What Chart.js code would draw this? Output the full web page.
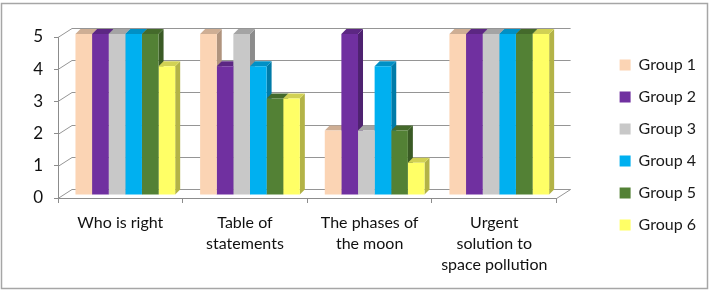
<!DOCTYPE html>
<html>
<head>
<meta charset="utf-8">
<script src="https://cdn.jsdelivr.net/npm/chart.js@4.4.1/dist/chart.umd.min.js"></script>
<style>
  html, body { margin: 0; padding: 0; background: #fff; }
  #wrap { width: 712px; height: 290px; }
</style>
</head>
<body>
<div id="wrap"><canvas id="activities"></canvas></div>
<script>
const activities = [
  "Who is right",
  ["Table of", "statements"],
  ["The phases of", "the moon"],
  ["Urgent", "solution to", "space pollution"],
];
const groupNames = ["Group 1", "Group 2", "Group 3", "Group 4", "Group 5", "Group 6"];
const group1 = [5, 5, 2, 5];
const group2 = [5, 4, 5, 5];
const group3 = [5, 5, 2, 5];
const group4 = [5, 4, 4, 5];
const group5 = [5, 3, 2, 5];
const group6 = [4, 3, 1, 5];
const groupColors = ["#FBD4B4", "#7030A0", "#C8C8C8", "#00B0F0", "#538135", "#FFFF66"];

// fake 3d look
const WALL_DX = 14, WALL_DY = 9;
const BAR_DX = 5, BAR_DY = 5;
const SHIFT_X = 5, SHIFT_Y = -3;

function shade(hex, f) {
  const n = parseInt(hex.slice(1), 16);
  const r = (n >> 16) & 255, g = (n >> 8) & 255, b = n & 255;
  return "rgb(" + Math.round(r * f) + "," + Math.round(g * f) + "," + Math.round(b * f) + ")";
}

const depth = {
  id: "depth",
  beforeDraw(chart) {
    const ctx = chart.ctx;
    ctx.save();
    ctx.strokeStyle = "#a6a6a6";
    ctx.lineWidth = 1.5;
    ctx.strokeRect(1.5, 3.5, 706, 285);
    ctx.restore();
  },
  beforeDatasetsDraw(chart) {
    const ctx = chart.ctx;
    const a = chart.chartArea;
    const yScale = chart.scales.y;
    ctx.save();
    ctx.strokeStyle = "#959595";
    ctx.lineWidth = 1;
    ctx.beginPath();
    yScale.ticks.forEach(t => {
      const py = Math.round(yScale.getPixelForValue(t.value)) + 0.5;
      ctx.moveTo(a.left, py);
      ctx.lineTo(a.left + WALL_DX, py - WALL_DY);
      ctx.lineTo(a.right + WALL_DX, py - WALL_DY);
    });
    const y0 = Math.round(yScale.getPixelForValue(0)) + 0.5;
    ctx.moveTo(a.right, y0);
    ctx.lineTo(a.right + WALL_DX, y0 - WALL_DY);
    ctx.stroke();
    ctx.restore();

    ctx.save();
    ctx.translate(SHIFT_X, SHIFT_Y);
    chart.data.datasets.forEach((ds, i) => {
      chart.getDatasetMeta(i).data.forEach(bar => {
        const p = bar.getProps(["x", "y", "base", "width"], true);
        const l = p.x - p.width / 2, r = p.x + p.width / 2;
        ctx.fillStyle = shade(ds.backgroundColor, 0.7);
        ctx.beginPath();
        ctx.moveTo(r, p.y);
        ctx.lineTo(r + BAR_DX, p.y - BAR_DY);
        ctx.lineTo(r + BAR_DX, p.base - BAR_DY);
        ctx.lineTo(r, p.base);
        ctx.closePath();
        ctx.fill();
        ctx.fillStyle = shade(ds.backgroundColor, 0.82);
        ctx.beginPath();
        ctx.moveTo(l, p.y);
        ctx.lineTo(l + BAR_DX, p.y - BAR_DY);
        ctx.lineTo(r + BAR_DX, p.y - BAR_DY);
        ctx.lineTo(r, p.y);
        ctx.closePath();
        ctx.fill();
      });
    });
  },
  afterDatasetsDraw(chart) {
    chart.ctx.restore();
  },
};

const seriesValues = [group1, group2, group3, group4, group5, group6];

const chart = new Chart(document.getElementById("activities"), {
  type: "bar",
  data: {
    labels: activities,
    datasets: seriesValues.map((vals, i) => ({
      label: groupNames[i],
      data: vals,
      backgroundColor: groupColors[i],
      borderWidth: 0,
      categoryPercentage: 0.8,
      barPercentage: 1.0,
      clip: false,
    })),
  },
  options: {
    responsive: true,
    maintainAspectRatio: false,
    animation: false,
    layout: {
      padding: { top: 0, left: 0, right: 6, bottom: 0 },
    },
    plugins: {
      tooltip: { enabled: false },
      legend: {
        position: "right",
        labels: {
          boxWidth: 11,
          boxHeight: 11,
          padding: 16,
          color: "#1a1a1a",
          font: { family: "Lato", size: 16 },
        },
      },
    },
    scales: {
      x: {
        afterFit(scale) { scale.height = 92; },
        grid: { drawOnChartArea: false, tickLength: 5, color: "#8c8c8c" },
        border: { color: "#8c8c8c" },
        ticks: {
          color: "#111",
          font: { family: "Lato", size: 16, lineHeight: 1.33 },
          padding: 9,
          maxRotation: 0,
          autoSkip: false,
        },
      },
      y: {
        min: 0,
        max: 5,
        afterFit(scale) { scale.width = 58; },
        grid: { drawOnChartArea: false, tickLength: 4, color: "#8c8c8c" },
        border: { color: "#8c8c8c" },
        ticks: {
          stepSize: 1,
          color: "#111",
          font: { family: "Lato", size: 17 },
          padding: 11,
        },
      },
      topGap: {
        type: "linear",
        position: "top",
        display: true,
        afterFit(scale) { scale.height = 37; },
        grid: { display: false },
        border: { display: false },
        ticks: { display: false },
      },
      gap: {
        type: "linear",
        position: "right",
        display: true,
        afterFit(scale) { scale.width = 47; },
        grid: { display: false },
        border: { display: false },
        ticks: { display: false },
      },
    },
  },
  plugins: [depth],
});
</script>
</body>
</html>
